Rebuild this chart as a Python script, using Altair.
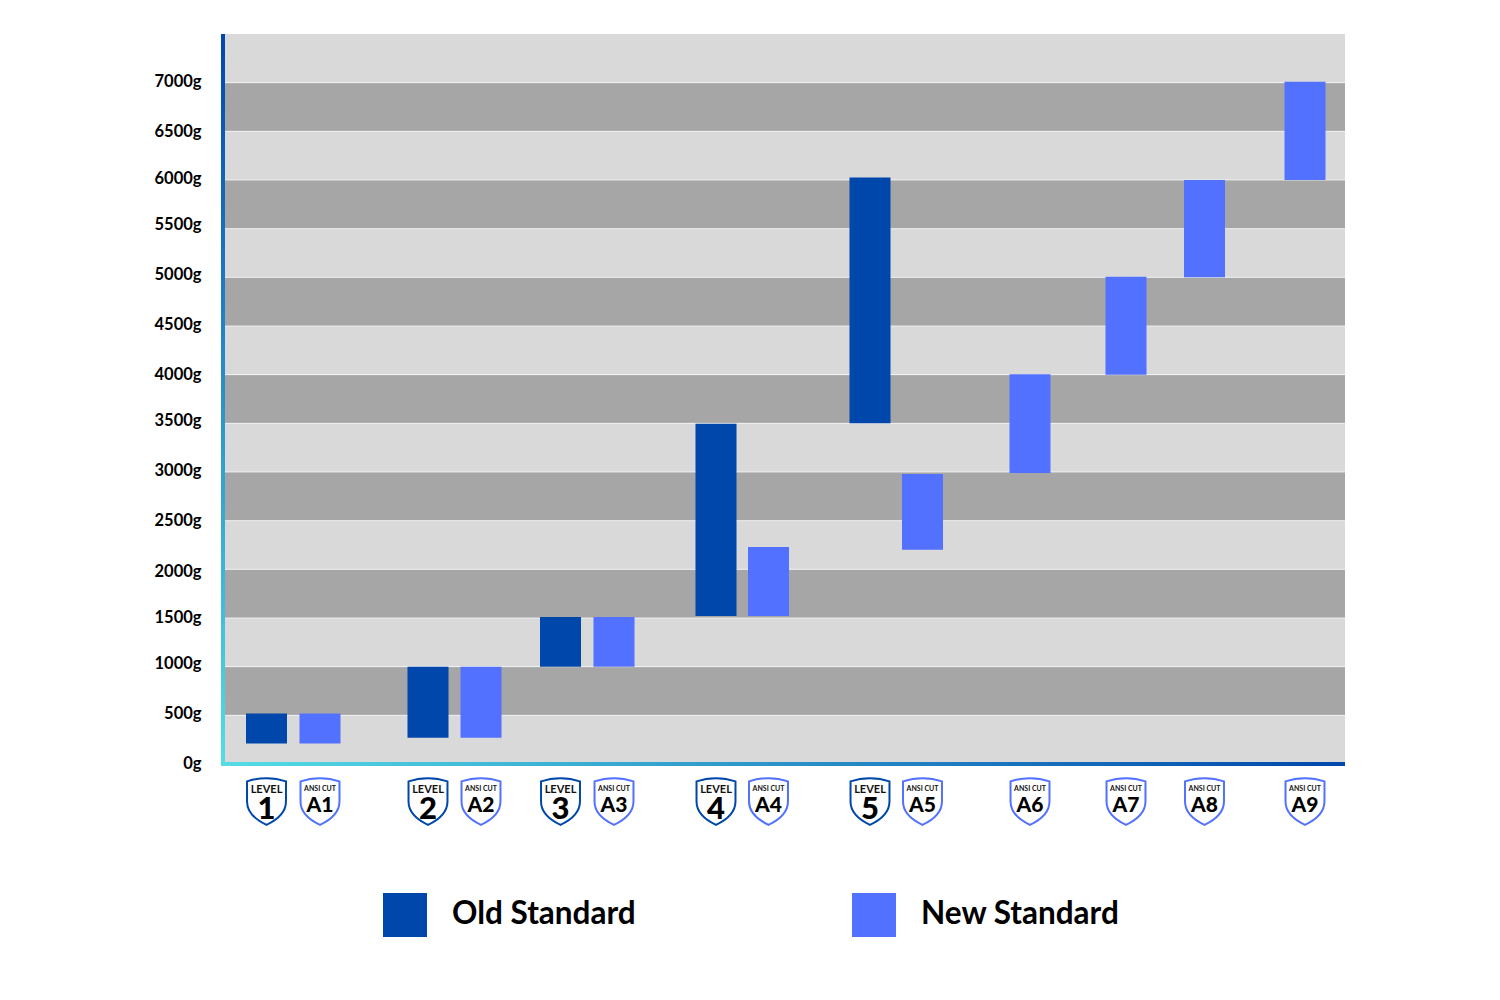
import altair as alt
import pandas as pd

OLD = "Old Standard"
NEW = "New Standard"
COLOR_OLD = "#0047AB"
COLOR_NEW = "#5271FF"
FONT = "Lato"

names = ["1", "A1", "2", "A2", "3", "A3", "4", "A4", "5", "A5", "A6", "A7", "A8", "A9"]
slots = [41.5, 95, 203, 256, 335.5, 389, 491, 543.5, 645, 697.5, 805, 901, 979.5, 1080]
standards = [OLD, NEW, OLD, NEW, OLD, NEW, OLD, NEW, OLD, NEW, NEW, NEW, NEW, NEW]
lows = [210, 210, 270, 270, 1000, 1000, 1520, 1520, 3500, 2200, 2990, 4000, 5000, 6000]
highs = [520, 520, 1000, 1000, 1510, 1510, 3495, 2230, 6025, 2980, 4005, 5005, 6000, 7010]
ticks = list(range(0, 7001, 500))
band_low = list(range(0, 7001, 500))
band_kind = ["light", "dark"] * 7 + ["light"]
label_nudge = {7000: -1, 6500: 0, 5500: -4, 5000: -3, 4500: -2, 4000: 0, 3500: -3, 3000: -2,
               2500: 0, 2000: 2, 1500: -1, 1000: -3, 500: -2, 0: -1}

bars = pd.DataFrame({"name": names, "slot": slots, "standard": standards, "low": lows, "high": highs})
bands = pd.DataFrame({"low": band_low, "high": [v + 500 for v in band_low], "kind": band_kind})
rules = pd.DataFrame({"v": ticks[1:]})

x = alt.X("slot:Q", scale=alt.Scale(domain=[0, 1120], padding=0, nice=False, zero=False), axis=None)
yscale = alt.Scale(domain=[0, 7500], nice=False)

label_expr = "datum.value + 'g'"
offset_cond = {"condition": [{"test": f"datum.value == {k}", "value": v} for k, v in label_nudge.items()], "value": -2}
band_layer = alt.Chart(bands).mark_rect().encode(
    x=alt.value(0), x2=alt.value(1120),
    y=alt.Y("low:Q", scale=yscale, title=None, axis=alt.Axis(
        values=ticks, labelExpr=label_expr, domain=False, ticks=False, grid=False,
        labelFont=FONT, labelFontSize=16.5, labelFontWeight=700, labelColor="#000000",
        labelPadding=24, labelOffset=offset_cond)),
    y2="high:Q",
    fill=alt.Fill("kind:N", scale=alt.Scale(domain=["light", "dark"], range=["#D9D9D9", "#A6A6A6"]), legend=None),
)
rule_layer = alt.Chart(rules).mark_rule(color="#FFFFFF", strokeWidth=1, opacity=0.7).encode(
    y=alt.Y("v:Q", scale=yscale))

color = alt.Color("standard:N", scale=alt.Scale(domain=[OLD, NEW], range=[COLOR_OLD, COLOR_NEW]),
                  legend=alt.Legend(title=None, orient="none", legendX=158, legendY=859, direction="horizontal",
                                    columns=2, columnPadding=216, symbolType="square", symbolSize=1936,
                                    symbolStrokeWidth=0, symbolOpacity=1, labelFont=FONT, labelFontSize=31.5,
                                    labelFontWeight=700, labelColor="#000000", labelOffset=25, labelLimit=400))
bar_layer = alt.Chart(bars).mark_bar(width=41, opacity=1).encode(
    x=x, y=alt.Y("low:Q", scale=yscale), y2="high:Q", color=color)

shield = ("M0,-1.14 Q0.5,-1.14 0.95,-0.98 L0.95,0 C0.95,0.6 0.4,0.95 0,1.14 "
          "C-0.4,0.95 -0.95,0.6 -0.95,0 L-0.95,-0.98 Q-0.5,-1.14 0,-1.14 Z")
badge_layer = alt.Chart(bars).mark_point(shape=shield, size=1681, filled=True, fill="#FFFFFF", strokeWidth=2,
                                         opacity=1, fillOpacity=1, strokeOpacity=1, stroke=COLOR_OLD).encode(
    x=x, y=alt.value(767.5),
    stroke=alt.Stroke("standard:N", scale=alt.Scale(domain=[OLD, NEW], range=[COLOR_OLD, COLOR_NEW]), legend=None))

base_old = alt.Chart(bars).transform_filter(alt.datum.standard == OLD)
base_new = alt.Chart(bars).transform_filter(alt.datum.standard == NEW)
level_top = base_old.mark_text(text="LEVEL", font=FONT, fontSize=11, fontWeight=700, color="#111111").encode(
    x=x, y=alt.value(755.5))
level_num = base_old.mark_text(font=FONT, fontSize=31, fontWeight=900, color="#000000").encode(
    x=x, y=alt.value(775.5), text="name:N")
ansi_top = base_new.mark_text(text="ANSI CUT", font=FONT, fontSize=7, fontWeight=700, color="#111111").encode(
    x=x, y=alt.value(754.5))
ansi_num = base_new.mark_text(font=FONT, fontSize=21, fontWeight=900, color="#000000").encode(
    x=x, y=alt.value(771.5), text="name:N")

stop_a = "#55DDE6"
stop_b = "#0047AB"
left_line = alt.Chart(alt.Data(values=[{}])).mark_rect(
    color=alt.LinearGradient(gradient="linear", x1=0, y1=1, x2=0, y2=0,
                             stops=[alt.GradientStop(color=stop_a, offset=0), alt.GradientStop(color=stop_b, offset=1)])
).encode(x=alt.value(-4), x2=alt.value(0), y=alt.value(0), y2=alt.value(732))
bottom_line = alt.Chart(alt.Data(values=[{}])).mark_rect(
    color=alt.LinearGradient(gradient="linear", x1=0, y1=0, x2=1, y2=0,
                             stops=[alt.GradientStop(color=stop_a, offset=0), alt.GradientStop(color=stop_b, offset=1)])
).encode(x=alt.value(-4), x2=alt.value(1120), y=alt.value(728), y2=alt.value(732))

chart = alt.layer(band_layer, rule_layer, bar_layer, left_line, bottom_line, badge_layer,
                  level_top, level_num, ansi_top, ansi_num).resolve_scale(
    fill="independent", stroke="independent"
).properties(
    width=1120, height=730,
    autosize=alt.AutoSizeParams(type="none"),
    padding={"left": 217, "top": 26, "right": 147, "bottom": 228},
    background="#FFFFFF",
).configure_view(stroke=None)

chart.save("out.html", embed_options={"renderer": "svg", "actions": False})
